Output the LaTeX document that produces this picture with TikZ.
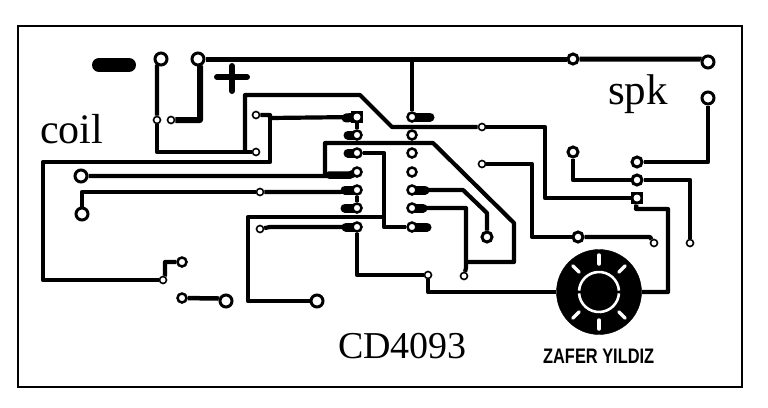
\documentclass[tikz,border=0pt]{standalone}
\usepackage{fontspec}
\setmainfont{Liberation Serif}
\newfontfamily\logofont{Liberation Sans}
\pgfdeclarelayer{pads}
\pgfsetlayers{main,pads}

\begin{document}
\begin{tikzpicture}[x=1pt,y=-1pt,
    bigpad/.style={draw, circle, fill=white, inner sep=0pt, line width=3pt, minimum size=12pt},
    midpad/.style={draw, circle, fill=white, inner sep=0pt, line width=3pt, minimum size=10pt},
    icpad/.style={draw, circle, fill=white, inner sep=0pt, line width=2.5pt, minimum size=9pt},
    via/.style={draw, circle, fill=white, inner sep=0pt, line width=1.6pt, minimum size=7pt},
    sqpad/.style={rectangle, fill=black, inner sep=0pt, minimum size=12.5pt},
    label/.style={inner sep=0pt, anchor=base west},
    trace/.style={draw, line width=4.2pt, line join=round},
    widetrace/.style={draw, line width=6pt, line join=round},
    blob/.style={draw, line width=9pt, line cap=round}]
  \useasboundingbox (0,0) rectangle (768,407);
  \draw[line width=1.3pt] (18,26) rectangle (742,387);

  \begin{pgfonlayer}{pads}
    % Pads
    \node[bigpad] (supa) at (161,59) {};
    \node[bigpad] (supb) at (198,59) {};
    \node[midpad] (rail) at (573,59) {};
    \node[bigpad] (spka) at (708,62) {};
    \node[bigpad] (spkb) at (708,98) {};
    \node[bigpad] (coila) at (81,176) {};
    \node[bigpad] (coilb) at (82,214) {};
    \node[midpad] (sw) at (573,152) {};
    \node[midpad] (tra) at (637,162) {};
    \node[midpad] (trb) at (637,180) {};
    \node[sqpad] (trc) at (637,198) {};
    \fill[white] (trc) circle (3.5);
    \node[midpad] (cap) at (487,237) {};
    \node[midpad] (res) at (578,237) {};
    \node[icpad] (lowa) at (182,262) {};
    \node[icpad] (lowb) at (182,298) {};
    \node[bigpad] (lowc) at (226,301) {};
    \node[bigpad] (lowd) at (317,301) {};
    % Zocalo
    \node[sqpad] (la) at (357,117) {};
    \fill[white] (la) circle (3.5);
    \node[icpad] (lb) at (357,135) {};
    \node[icpad] (lc) at (357,153) {};
    \node[icpad] (ld) at (357,172) {};
    \node[icpad] (le) at (357,190) {};
    \node[icpad] (lf) at (357,208) {};
    \node[icpad] (lg) at (357,227) {};
    \node[icpad] (ra) at (412,117) {};
    \node[icpad] (rb) at (412,135) {};
    \node[icpad] (rc) at (412,153) {};
    \node[icpad] (rd) at (412,172) {};
    \node[icpad] (re) at (412,190) {};
    \node[icpad] (rf) at (412,208) {};
    \node[icpad] (rg) at (412,227) {};
    % Vias
    \node[via] (va) at (157,120) {};
    \node[via] (vb) at (171,120) {};
    \node[via] (vc) at (256,115) {};
    \node[via] (vd) at (256,152) {};
    \node[via] (ve) at (260,192) {};
    \node[via] (vf) at (260,229) {};
    \node[via] (vg) at (482,127) {};
    \node[via] (vh) at (482,164) {};
    \node[via] (vi) at (428,275) {};
    \node[via] (vj) at (464,276) {};
    \node[via] (vk) at (163,280) {};
    \node[via] (vl) at (654,243) {};
    \node[via] (vm) at (690,243) {};
  \end{pgfonlayer}

  % Dial
  \node[draw, circle, fill=black, inner sep=0pt, minimum size=85pt] (dial) at (599,292) {};
  \draw[white, line width=2.6pt] (dial.center) ++(-4:20) arc[start angle=4, end angle=176, radius=20pt];
  \draw[white, line width=2.6pt] (dial.center) ++(-184:20) arc[start angle=184, end angle=356, radius=20pt];
  \foreach \ang in {45,90,135,225,270,315}
    \draw[white, line width=3.5pt, line cap=round] (dial.center) ++(-\ang:28) -- ++(-\ang:9);

  % Pistas
  \draw[trace] (supa) -- (157,65) -- (va);
  \draw[trace] (va) -- (157,152) -- (vd);
  \draw[widetrace] (vb) -- (200,120) -- (200,66) -- (supb);
  \draw[trace, line width=5pt] (supb) -- (rail);
  \draw[trace, line width=5pt] (rail) -- (700,59) -- (spka);
  \draw[line width=4.5pt] (412,59) -- (ra);
  \draw[trace] (245,152) -- (245,95) -- (360,95) -- (392,127) -- (vg);
  \draw[trace] (vg) -- (545,127) -- (545,198) -- (trc);
  \draw[trace] (vc) -- (270,115) -- (270,118) -- (la);
  \draw[trace] (270,115) -- (270,162) -- (43,162) -- (43,280) -- (vk);
  \draw[trace] (vk) -- (165,275) -- (165,262) -- (lowa);
  \draw[widetrace, line width=4.5pt] (lowb) -- (218,298.5) -- (lowc);
  \draw[trace] (coila) -- (340,176) -- (ld);
  \draw[trace] (coilb) -- (82,192) -- (ve);
  \draw[trace] (ve) -- (340,192) -- (le);
  \draw[trace] (le) -- (lf);
  \draw[trace] (la) -- (lb);
  \draw[trace] (325,176) -- (325,143) -- (433,143) -- (514,223) -- (514,262) -- (466,262);
  \draw[trace] (rf) -- (466,208) -- (466,268) -- (vj);
  \draw[trace] (re) -- (463,190) -- (487,213) -- (cap);
  \draw[trace] (lc) -- (384,153) -- (384,227) -- (rg);
  \draw[trace] (384,217) -- (248,217) -- (248,301) -- (lowd);
  \draw[trace] (vf) -- (270,227) -- (lg);
  \draw[trace] (lg) -- (357,275) -- (vi);
  \draw[trace] (vi) -- (428,292) -- (dial);
  \draw[trace] (dial) -- (668,292) -- (668,209) -- (636,209) -- (trc);
  \draw[trace] (sw) -- (573,180) -- (trb);
  \draw[trace] (trb) -- (690,180) -- (vm);
  \draw[trace] (tra) -- (708,162) -- (spkb);
  \draw[trace] (vh) -- (532,164) -- (532,237) -- (res);
  \draw[trace] (res) -- (650,237) -- (vl);

  % Manchas
  \draw[blob] (la.center) -- (346,118);
  \draw[blob] (lb.center) -- (348,135);
  \draw[blob] (lc.center) -- (348,153);
  \draw[blob, line width=7.5pt] (ld.center) -- (350,175) -- (329,175);
  \draw[blob] (le.center) -- (345,190);
  \draw[blob] (lf.center) -- (345,208);
  \draw[blob] (lg.center) -- (346,227);
  \draw[blob] (ra.center) -- (430,117);
  \draw[blob] (re.center) -- (425,190);
  \draw[blob] (rf.center) -- (423,208);
  \draw[blob] (rg.center) -- (427,227);

  % Simbolos
  \draw[line width=14pt, line cap=round] (99,65) -- (129,65);
  \draw[line width=6pt, line cap=round] (217,77) -- (247,77);
  \draw[line width=6pt, line cap=round] (232,66) -- (232,91);

  % Textos
  \node[label, font=\fontsize{42}{42}\selectfont] (coil) at (40,143) {coil};
  \node[label, font=\fontsize{43}{43}\selectfont] (spk) at (608,104) {spk};
  \node[label, font=\fontsize{38}{38}\selectfont] (chip) at (338,358) {CD4093};
  \node[label, xscale=.78, font=\logofont\bfseries\fontsize{21}{21}\selectfont] (logo) at (543,363) {ZAFER YILDIZ};
\end{tikzpicture}
\end{document}
